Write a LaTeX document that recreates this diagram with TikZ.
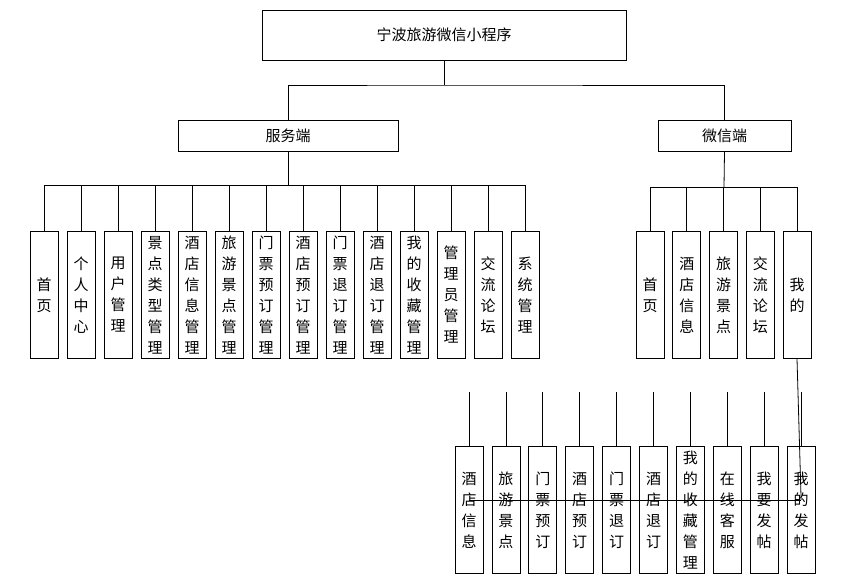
\documentclass[tikz,border=0pt]{standalone}
\usepackage{fontspec}
\setmainfont{Noto Sans CJK SC}
\begin{document}
\begin{tikzpicture}[x=1pt,y=-1pt,
  box/.style={draw,line width=0.8pt,inner sep=0pt,font=\fontsize{15}{21}\selectfont,align=center},
  vbox/.style={box,minimum width=28pt,minimum height=127pt,anchor=north},
  ln/.style={line width=0.8pt}]
\useasboundingbox (0,0) rectangle (853,581);
\node[box,minimum width=364pt,minimum height=50pt] (root) at (444,35) {宁波旅游微信小程序};
\node[box,minimum width=220pt,minimum height=31pt] (fw) at (288,135.5) {服务端};
\node[box,minimum width=133pt,minimum height=31pt] (wx) at (724.5,135.5) {微信端};
\coordinate (j0) at (444,85);
\draw[ln] (root.south) -- (j0);
\draw[ln] (fw.north) |- (j0) -| (wx.north);
% service side
\foreach \i/\t in {1/首\\页,2/个\\人\\中\\心,3/用\\户\\管\\理,4/景\\点\\类\\型\\管\\理,5/酒\\店\\信\\息\\管\\理,6/旅\\游\\景\\点\\管\\理,7/门\\票\\预\\订\\管\\理,8/酒\\店\\预\\订\\管\\理,9/门\\票\\退\\订\\管\\理,10/酒\\店\\退\\订\\管\\理,11/我\\的\\收\\藏\\管\\理,12/管\\理\\员\\管\\理,13/交\\流\\论\\坛,14/系\\统\\管\\理}{
  \node[vbox] (s\i) at ({44+37*(\i-1)},231) {\t};
  \draw[ln] (s\i.north) -- ++(0,-46);
}
\draw[ln] (fw.south) -- (288,185);
\draw[ln] ([yshift=46pt]s1.north) -- ([yshift=46pt]s14.north);
% wechat side
\foreach \i/\t in {1/首\\页,2/酒\\店\\信\\息,3/旅\\游\\景\\点,4/交\\流\\论\\坛,5/我\\的}{
  \node[vbox] (w\i) at ({650+36.75*(\i-1)},231) {\t};
  \draw[ln] (w\i.north) -- ++(0,-44);
}
\draw[ln] (wx.south) -- (724,187);
\draw[ln] ([yshift=44pt]w1.north) -- ([yshift=44pt]w5.north);
% my
\foreach \i/\t in {1/酒\\店\\信\\息,2/旅\\游\\景\\点,3/门\\票\\预\\订,4/酒\\店\\预\\订,5/门\\票\\退\\订,6/酒\\店\\退\\订,7/我\\的\\收\\藏\\管\\理,8/在\\线\\客\\服,9/我\\要\\发\\帖,10/我\\的\\发\\帖}{
  \node[vbox] (m\i) at ({469+36.9*(\i-1)},446) {\t};
  \draw[ln] (m\i.north) -- ++(0,-54);
}
\draw[ln] (w5.south) -- ([yshift=-54pt]m10.north);
\draw[ln] ([yshift=-54pt]m1.north) -- ([yshift=-54pt]m10.north);
\end{tikzpicture}
\end{document}
